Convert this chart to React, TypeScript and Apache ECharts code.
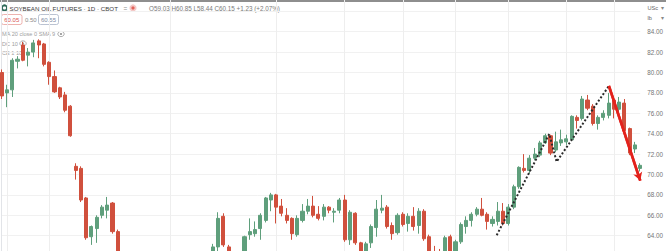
import React, { useEffect, useRef } from "react";
import * as echarts from "echarts";

const opens = [80.0,78.0,78.3,81.1,82.7,81.7,82.0,83.1,82.8,81.0,79.6,78.5,77.8,76.7,70.8,70.6,67.7,63.9,64.7,66.0,66.5,67.2,64.4,61.3,59.6,60.2,58.7,60.0,61.1,59.5,58.2,59.0,57.9,58.8,59.5,58.5,59.6,58.9,60.1,60.9,60.3,62.9,65.9,62.9,61.6,61.8,61.1,64.1,64.2,64.7,65.5,67.5,68.0,66.9,66.0,65.7,64.1,65.5,66.4,66.9,66.1,65.9,66.8,66.3,66.5,67.5,63.6,66.2,63.3,61.9,63.3,64.8,66.5,66.8,65.0,64.3,66.1,65.2,65.9,65.0,66.4,63.9,62.3,62.2,61.5,63.9,61.9,63.4,64.9,65.5,66.1,66.6,66.1,65.2,65.4,66.4,65.2,66.8,68.8,70.6,70.4,71.6,71.9,73.1,73.8,72.4,73.1,73.2,73.4,75.6,75.5,77.3,76.7,75.0,75.6,75.8,77.3,76.4,77.0,74.5,72.5,70.6];
const closes = [77.7,78.3,81.2,81.3,81.2,82.0,82.9,82.7,80.8,79.6,78.1,77.6,76.3,73.8,70.4,67.5,63.8,64.9,65.8,66.8,67.0,64.4,61.4,59.8,60.4,58.5,59.9,61.2,59.6,58.3,59.1,57.8,58.9,59.6,58.4,59.7,58.8,60.1,60.9,60.2,62.9,65.7,63.1,61.7,61.9,61.0,63.9,64.4,64.6,66.0,67.7,68.0,66.8,66.2,65.5,64.2,65.7,66.4,66.9,66.0,65.7,66.8,66.5,66.4,67.5,63.6,66.3,63.3,61.8,63.2,64.9,66.6,66.7,64.9,64.2,66.0,65.1,65.9,64.9,66.4,63.7,62.0,61.6,61.8,63.8,61.9,63.4,65.1,65.5,66.1,66.6,66.0,65.4,65.6,66.4,65.2,66.8,68.8,70.7,70.4,71.6,72.0,73.1,73.8,72.1,73.2,73.4,73.5,75.7,75.3,77.4,76.5,75.0,75.6,76.0,77.0,76.4,77.1,74.3,72.1,72.9,70.9];
const lows = [77.4,76.6,77.6,80.4,81.1,80.6,81.5,81.4,80.6,78.8,78.0,77.4,76.1,73.7,69.5,67.3,63.6,63.1,63.3,65.7,65.7,64.2,60.9,59.2,58.8,57.9,58.1,59.4,59.0,57.6,57.5,57.2,57.3,58.1,57.9,58.0,58.2,58.5,59.5,59.6,60.0,62.5,62.9,61.2,60.8,60.5,60.9,63.6,63.9,63.6,65.3,66.4,65.2,65.9,65.2,63.6,63.9,65.3,66.1,65.8,65.5,65.5,66.2,65.3,66.2,63.4,63.1,63.1,61.3,61.5,62.8,63.9,66.2,64.7,63.6,64.1,64.9,64.4,64.5,64.2,63.5,61.6,61.0,61.2,61.0,61.4,61.5,63.2,64.2,64.9,65.9,65.9,64.6,64.9,65.0,65.0,65.0,66.6,68.6,70.2,70.1,71.4,71.7,73.0,71.9,72.2,72.8,72.9,73.3,74.5,75.3,76.3,74.8,74.4,75.3,75.5,75.5,76.0,74.1,71.9,72.1,70.3];
const highs = [80.3,78.8,81.4,81.6,83.0,82.4,83.2,83.25,82.9,81.1,80.2,78.6,78.1,76.8,71.1,70.8,67.8,65.0,66.0,67.0,67.8,67.3,64.6,61.7,61.0,60.9,60.5,62.3,61.6,60.1,59.6,59.5,59.6,60.4,60.0,60.3,60.1,60.8,61.5,61.7,63.2,66.3,66.2,63.1,62.4,62.0,64.0,65.7,65.4,66.2,67.8,68.2,68.1,67.6,66.7,65.8,66.0,67.1,67.6,67.9,66.9,67.1,66.9,66.7,67.7,68.0,66.5,66.3,63.4,63.4,65.1,67.5,68.0,67.0,65.3,66.2,66.3,66.2,66.8,66.7,66.6,64.1,63.0,62.7,64.0,64.1,63.6,65.3,65.9,66.3,66.8,67.7,66.3,65.9,67.3,67.2,67.1,69.0,70.8,72.0,71.9,72.6,73.3,74.0,73.9,74.2,74.4,73.9,75.8,75.8,77.7,77.8,76.9,75.8,76.3,78.0,77.5,77.6,77.4,74.6,73.2,71.1];

const categories = opens.map((_, i) => String(i + 1));
const monthLineBars = [1, 9, 32, 52, 65, 76, 86, 96, 107, 116];

// drawings: [barIndex, price]
const dottedPath = [[93.8, 64.05], [103.76, 73.97], [105.15, 71.25], [115.06, 78.68]];
const arrowStart = [115.06, 78.68];
const arrowEnd = [121, 69.4];

const yMin = 62;
const yMax = 88;
const yStep = 2;

const titleText = "SOYBEAN OIL FUTURES · 1D · CBOT";
const ohlcText = "O59.03 H60.85 L58.44 C60.15 +1.23 (+2.07%)";
const sellText = "60.05";
const spreadText = "0.50";
const buyText = "60.55";
const ind1 = "MA 20 close 0 SMA 9";
const ind2 = "DC 10";
const ind3 = "CE 1 10";

const UP = "#5f9f7c";
const DOWN = "#d0503d";
const FONT = "Liberation Sans, Arial, sans-serif";
const O = 10;

export default function App() {
  const ref = useRef<HTMLDivElement>(null);
  useEffect(() => {
    if (!ref.current) return;
    const chart = echarts.init(ref.current, null, { renderer: "svg" });
    const candles = opens.map((o, i) => [o, closes[i], lows[i], highs[i]]);
    const eye = (cx: number, cy: number) => [
      { type: "ellipse", shape: { cx, cy: cy + O, rx: 3.2, ry: 2.6 }, style: { fill: "none", stroke: "#9a9a9a", lineWidth: 0.8 } },
      { type: "circle", shape: { cx, cy: cy + O, r: 1.1 }, style: { fill: "#9a9a9a" } },
    ];
    chart.setOption({
      animation: false,
      backgroundColor: "#ffffff",
      grid: { left: 1.7, top: 0.9, width: 639.3, height: 265.2 },
      xAxis: [
        {
          type: "category",
          data: categories,
          boundaryGap: false,
          axisLine: { show: false },
          axisTick: { show: false },
          axisLabel: { show: false },
          splitLine: {
            show: true,
            interval: (index: number) => monthLineBars.includes(index),
            lineStyle: { color: "#eeeeee", width: 1 },
          },
        },
        { type: "value", min: 0, max: categories.length - 1, show: false },
      ],
      yAxis: {
        type: "value",
        position: "right",
        offset: 3,
        min: yMin,
        max: yMax,
        interval: yStep,
        axisLine: { show: true, lineStyle: { color: "#e2e4e8" } },
        axisTick: { show: false },
        axisLabel: {
          color: "#747474",
          fontSize: 6.3,
          fontFamily: FONT,
          margin: 4,
          formatter: (v: number) => (v > 85 || v < 63 ? "" : v.toFixed(2)),
        },
        splitLine: { lineStyle: { color: "#f1f1f1", width: 1 } },
      },
      series: [
        {
          type: "candlestick",
          data: candles,
          barWidth: 3.6,
          clip: false,
          itemStyle: { color: UP, color0: DOWN, borderColor: UP, borderColor0: DOWN, borderWidth: 1 },
        },
        {
          type: "line",
          xAxisIndex: 1,
          data: dottedPath,
          symbol: "none",
          clip: false,
          silent: true,
          lineStyle: { color: "#2b2b2b", width: 2, type: [2, 2] },
        },
        {
          type: "line",
          xAxisIndex: 1,
          data: [arrowStart, arrowEnd],
          symbol: "none",
          clip: false,
          silent: true,
          lineStyle: { color: "#e3221c", width: 2.6 },
          markLine: {
            silent: true,
            symbol: ["none", "arrow"],
            symbolSize: [7, 8],
            label: { show: false },
            lineStyle: { color: "#e3221c", width: 2.6, type: "solid" },
            data: [[{ coord: arrowStart }, { coord: arrowEnd }]],
          },
        },
      ],
      graphic: [
        { type: "rect", shape: { x: 0, y: 29 + O, width: 66, height: 28 }, style: { fill: "rgba(255,255,255,0.45)" } },
        { type: "rect", shape: { x: 0, y: 0 + O, width: 666, height: 2 }, style: { fill: "#8e8e8e" } },
        { type: "circle", shape: { cx: 4.5, cy: 8 + O, r: 3.6 }, style: { fill: "#2f6a58" } },
        { type: "circle", shape: { cx: 4.5, cy: 8 + O, r: 1.6 }, style: { fill: "#ffffff" } },
        { type: "text", x: 9.5, y: 8 + O, style: { text: titleText, fontSize: 6.2, fontFamily: FONT, fill: "#3b3b3b", verticalAlign: "middle" } },
        { type: "text", x: 123.5, y: 8 + O, style: { text: "=", fontSize: 6.5, fontFamily: FONT, fill: "#8a8a8a", verticalAlign: "middle" } },
        { type: "circle", shape: { cx: 133, cy: 8 + O, r: 3.6 }, style: { fill: "#f4c9c7" } },
        { type: "circle", shape: { cx: 133, cy: 8 + O, r: 1.6 }, style: { fill: "#e2625a" } },
        { type: "text", x: 149, y: 8 + O, style: { text: ohlcText, fontSize: 6.3, fontFamily: FONT, fill: "#7a7a7a", verticalAlign: "middle" } },
        { type: "rect", shape: { x: 1.5, y: 14.5 + O, width: 20.5, height: 10, r: 2 }, style: { fill: "#fff", stroke: "#e9a09b", lineWidth: 0.8 } },
        { type: "text", x: 11.75, y: 19.5 + O, style: { text: sellText, fontSize: 6, fontFamily: FONT, fill: "#d9534f", align: "center", verticalAlign: "middle" } },
        { type: "text", x: 25, y: 19.5 + O, style: { text: spreadText, fontSize: 6, fontFamily: FONT, fill: "#8a8a8a", verticalAlign: "middle" } },
        { type: "rect", shape: { x: 38.5, y: 14.5 + O, width: 20, height: 10, r: 2 }, style: { fill: "#fff", stroke: "#aab4c6", lineWidth: 0.8 } },
        { type: "text", x: 48.5, y: 19.5 + O, style: { text: buyText, fontSize: 6, fontFamily: FONT, fill: "#7d8aa3", align: "center", verticalAlign: "middle" } },
        { type: "text", x: 2, y: 34 + O, style: { text: ind1, fontSize: 5.6, fontFamily: FONT, fill: "#a0a0a0", verticalAlign: "middle" } },
        ...eye(61, 34),
        { type: "text", x: 2, y: 43.5 + O, style: { text: ind2, fontSize: 5.6, fontFamily: FONT, fill: "#a0a0a0", verticalAlign: "middle" } },
        ...eye(23, 43.5),
        { type: "text", x: 2, y: 53 + O, style: { text: ind3, fontSize: 5.6, fontFamily: FONT, fill: "#a0a0a0", verticalAlign: "middle" } },
        { type: "text", x: 647.5, y: 8 + O, style: { text: "USc", fontSize: 5.6, fontFamily: FONT, fill: "#666", verticalAlign: "middle" } },
        { type: "text", x: 661, y: 8 + O, style: { text: "▾", fontSize: 5.5, fontFamily: FONT, fill: "#888", verticalAlign: "middle" } },
        { type: "text", x: 647.5, y: 18 + O, style: { text: "lb", fontSize: 5.6, fontFamily: FONT, fill: "#666", verticalAlign: "middle" } },
        { type: "text", x: 661, y: 18 + O, style: { text: "▾", fontSize: 5.5, fontFamily: FONT, fill: "#888", verticalAlign: "middle" } },
      ],
    });
    return () => chart.dispose();
  }, []);
  return (
    <div style={{ position: "absolute", left: 0, top: 0, width: 666, height: 251, overflow: "hidden", background: "#fff" }}>
      <div ref={ref} style={{ position: "absolute", left: 0, top: -O, width: 666, height: 271 }} />
    </div>
  );
}
